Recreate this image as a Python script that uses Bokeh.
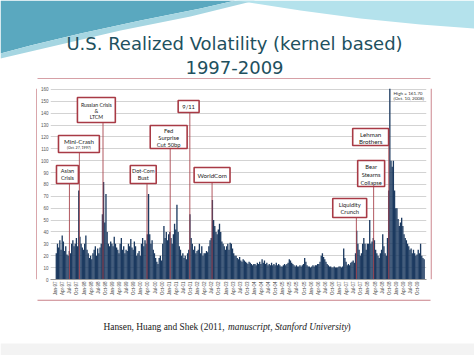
import math
from bokeh.plotting import figure
from bokeh.layouts import column, row
from bokeh.models import FixedTicker, Label, ColumnDataSource
from bokeh.core.properties import value
from bokeh.embed import file_html
from bokeh.resources import INLINE

# ---------------- data ----------------
years = [1997, 1998, 1999, 2000, 2001, 2002, 2003, 2004, 2005, 2006, 2007, 2008, 2009]
quarter_names = ["Jan", "Apr", "Jul", "Oct"]

# realized volatility, two readings per month (first / second half), per year
vol_1997 = [22, 30, 27, 33, 25, 37, 32, 24, 28, 21, 20, 24, 22, 30, 33, 28, 30, 35, 28, 75, 36, 30, 27, 25]
vol_1998 = [30, 37, 25, 22, 18, 20, 17, 22, 25, 28, 20, 26, 22, 27, 30, 55, 82, 48, 72, 40, 30, 28, 32, 30]
vol_1999 = [28, 36, 30, 27, 25, 22, 30, 35, 25, 28, 22, 25, 24, 30, 28, 34, 27, 25, 32, 28, 20, 22, 24, 20]
vol_2000 = [30, 35, 28, 33, 30, 38, 72, 38, 30, 33, 25, 22, 18, 15, 13, 18, 20, 16, 30, 45, 35, 40, 33, 38]
vol_2001 = [40, 35, 30, 38, 47, 42, 63, 40, 28, 25, 20, 22, 18, 20, 17, 22, 25, 55, 35, 30, 25, 28, 22, 24]
vol_2002 = [25, 30, 22, 28, 20, 22, 22, 24, 23, 28, 33, 35, 67, 50, 45, 40, 38, 42, 47, 40, 32, 30, 28, 25]
vol_2003 = [28, 30, 25, 31, 30, 26, 22, 20, 20, 18, 17, 19, 16, 15, 17, 16, 15, 14, 13, 15, 14, 13, 12, 13]
vol_2004 = [13, 12, 14, 13, 15, 13, 17, 14, 16, 13, 14, 12, 13, 12, 14, 12, 13, 12, 14, 12, 13, 12, 11, 11]
vol_2005 = [12, 13, 12, 13, 14, 17, 16, 14, 13, 12, 11, 12, 11, 11, 12, 11, 12, 13, 18, 15, 12, 11, 11, 10]
vol_2006 = [11, 12, 11, 12, 12, 13, 13, 15, 20, 22, 19, 17, 15, 13, 12, 11, 11, 10, 10, 11, 10, 10, 10, 11]
vol_2007 = [11, 10, 11, 26, 18, 15, 12, 13, 12, 14, 15, 16, 14, 22, 41, 30, 25, 20, 22, 30, 35, 30, 25, 30]
vol_2008 = [30, 50, 30, 32, 35, 33, 25, 22, 20, 18, 22, 25, 38, 28, 22, 20, 35, 75, 161.7, 100, 95, 100, 75, 60]
vol_2009 = [60, 51, 45, 48, 52, 45, 38, 35, 33, 30, 28, 25, 26, 22, 25, 22, 20, 21, 25, 22, 30, 20, 18, 17]

y_ticks = [0, 10, 20, 30, 40, 50, 60, 70, 80, 90, 100, 110, 120, 130, 140, 150, 160]

# events: label lines, month index (months since Jan 1997)
event_labels = [
    ["Asian", "Crisis"],
    ["Mini-Crash", "(Oct. 27, 1997)"],
    ["Russian Crisis", "&", "LTCM"],
    ["Dot-Com", "Bust"],
    ["Fed", "Surprise", "Cut 50bp"],
    ["9/11"],
    ["WorldCom"],
    ["Liquidity", "Crunch"],
    ["Bear", "Stearns", "Collapse"],
    ["Lehman", "Brothers"],
]
event_months = [5.8, 10.0, 20.0, 38.6, 48.4, 56.7, 66.1, 127.1, 134.4, 140.8]
high_text = ["High = 161.70", "(Oct. 10, 2008)"]

title_lines = ["U.S. Realized Volatility (kernel based)", "1997-2009"]
caption_parts = ["Hansen, Huang and Shek (2011, ", "manuscript, Stanford University", ")"]

# ---------------- page geometry ----------------
W, H = 474, 355
BX0, BX1, BY0, BY1 = 37, 430, 79, 299          # chart box
FL, FR, FT, FB = 49, 426, 88, 279              # plot frame (page px)
BORDER = "#c98088"

def deco_fig(w, h):
    f = figure(width=w, height=h, x_range=(0, w), y_range=(h, 0), title=None,
               x_axis_type=None, y_axis_type=None, toolbar_location=None,
               output_backend="svg", min_border=0)
    f.min_border_left = f.min_border_right = f.min_border_top = f.min_border_bottom = 0
    f.outline_line_color = None
    f.background_fill_color = "white"
    f.border_fill_color = "white"
    return f

# ---- head: swoosh + title ----
head = deco_fig(W, BY0)
head.patch([0, 235, 200, 140, 80, 30, 0], [0, 0, 8, 20, 33, 45, 53], fill_color="#5aa8bf", line_color=None)
head.patch([0, 30, 80, 140, 200, 235, 255, 190, 120, 60, 0], [53, 45, 33, 20, 8, 0, 0, 16, 30, 44, 58],
           fill_color="#a6d6e2", line_color=None)
head.patch([235, 474, 474, 420, 360, 300, 255], [0, 0, 28, 24, 18, 10, 3], fill_color="#b4e2ec", line_color=None)
head.text(x=[234, 234], y=[42.5, 67], text=title_lines, text_font=value("DejaVu Sans"),
          text_font_size="18px", text_color="#21505e", text_align="center", text_baseline="alphabetic")
head.segment(x0=[BX0], x1=[BX1], y0=[BY0 - 0.6], y1=[BY0 - 0.6], line_color=BORDER, line_width=1.2)

# ---- side strips with box border ----
left = deco_fig(BX0, BY1 - BY0)
left.segment(x0=[BX0 - 0.6], x1=[BX0 - 0.6], y0=[0], y1=[BY1 - BY0], line_color=BORDER, line_width=1.2)
right = deco_fig(W - BX1, BY1 - BY0)
right.segment(x0=[0.6], x1=[0.6], y0=[0], y1=[BY1 - BY0], line_color=BORDER, line_width=1.2)

# ---- foot: caption ----
foot = deco_fig(W, H - BY1)
foot.quad(left=[0], right=[W], top=[44], bottom=[H - BY1], fill_color="#f3f3f3", line_color=None)
foot.segment(x0=[BX0], x1=[BX1], y0=[0.6], y1=[0.6], line_color=BORDER, line_width=1.2)
cap_x = [103, 227.5, 347]
cap_style = ["normal", "italic", "normal"]
for part, xp, st in zip(caption_parts, cap_x, cap_style):
    foot.text(x=[xp], y=[326 - BY1], text=[part], text_font=value("Liberation Serif"),
              text_font_size="9.4px", text_font_style=st, text_color="#1a1a1a",
              text_align="left", text_baseline="alphabetic")

# ---- chart ----
X_START, X_END = -2.2, 156.75
Y_START, Y_END = 0, 160.8
CW, CH = BX1 - BX0, BY1 - BY0
SX = (FR - FL) / (X_END - X_START)
SY = (FB - FT) / (Y_END - Y_START)

def dx(px):
    return X_START + (px - FL) / SX

def dy(py):
    return Y_START + (FB - py) / SY

p = figure(width=CW, height=CH, x_range=(X_START, X_END), y_range=(Y_START, Y_END),
           title=None, output_backend="svg", toolbar_location=None)
p.min_border_left = FL - BX0
p.min_border_right = BX1 - FR
p.min_border_top = FT - BY0
p.min_border_bottom = BY1 - FB
p.outline_line_color = None
p.background_fill_color = "white"
p.border_fill_color = "white"

vals = (vol_1997 + vol_1998 + vol_1999 + vol_2000 + vol_2001 + vol_2002 + vol_2003 +
        vol_2004 + vol_2005 + vol_2006 + vol_2007 + vol_2008 + vol_2009)
xs = [i * 0.5 + 0.25 for i in range(len(vals))]
p.vbar(x=xs, top=vals, bottom=0, width=0.56, fill_color="#1c3a60", line_color=None)

tick_pos = []
overrides = {}
for yi, yr in enumerate(years):
    for qi, q in enumerate(quarter_names):
        m = yi * 12 + qi * 3
        tick_pos.append(m)
        overrides[m] = f"{q}-{str(yr)[2:]}"
p.xaxis.ticker = FixedTicker(ticks=tick_pos)
p.xaxis.major_label_overrides = overrides
p.xaxis.major_label_orientation = math.pi / 2
p.xaxis.major_label_text_font_size = "4.5px"
p.xaxis.major_label_text_color = "#444444"
p.xaxis.major_label_standoff = 2
p.xaxis.major_tick_line_color = None
p.xaxis.major_tick_out = 0
p.xaxis.minor_tick_line_color = None
p.xaxis.axis_line_color = "#999999"
p.xgrid.grid_line_color = None

p.yaxis.ticker = FixedTicker(ticks=y_ticks)
p.yaxis.major_label_text_font_size = "4.5px"
p.yaxis.major_label_text_color = "#555555"
p.yaxis.major_label_standoff = 2
p.yaxis.major_tick_out = 0
p.yaxis.axis_line_color = None
p.yaxis.major_tick_line_color = None
p.yaxis.minor_tick_line_color = None
p.ygrid.grid_line_color = "#c8c8c8"
p.ygrid.grid_line_width = 0.8

box_px = [
    (55, 77, 165, 183), (57, 98, 135, 152), (76, 114, 97, 122), (129, 155, 165, 183),
    (149, 186, 125, 148), (177, 198, 100, 112), (193, 229, 167, 182), (332, 366, 198, 217),
    (357, 384, 160, 186), (352, 388, 128, 145),
]
text_y_px = [
    [170, 177.5], [141, 147], [104, 110, 116.5], [170.5, 177.5], [130, 137.3, 144.3],
    [106], [174.5], [204, 211], [166, 174, 181.5], [133.5, 140.5],
]
text_size = [
    ["5.5px", "5.5px"], ["6.2px", "3.6px"], ["5.2px", "5.2px", "5.2px"], ["5.5px", "5.5px"],
    ["5.8px", "5.8px", "5.8px"], ["5.8px"], ["6.2px"], ["5.8px", "5.8px"],
    ["5.8px", "5.8px", "5.8px"], ["6.2px", "6.2px"],
]

p.segment(x0=event_months, x1=event_months, y0=[0] * len(event_months),
          y1=[dy(b[3]) for b in box_px], line_color="#a8464f", line_width=1.0, line_alpha=0.9)
p.quad(left=[dx(b[0]) for b in box_px], right=[dx(b[1]) for b in box_px],
       top=[dy(b[2]) for b in box_px], bottom=[dy(b[3]) for b in box_px],
       fill_color="white", line_color="#a83a45", line_width=1.6)

tx, ty, tt, ts = [], [], [], []
for lab, b, yl, sz in zip(event_labels, box_px, text_y_px, text_size):
    cx = (b[0] + b[1]) / 2
    for line, ypx, s in zip(lab, yl, sz):
        tx.append(dx(cx)); ty.append(dy(ypx)); tt.append(line); ts.append(s)
src = ColumnDataSource(dict(x=tx, y=ty, t=tt, s=ts))
p.text(x="x", y="y", text="t", source=src, text_font=value("Lato"), text_font_size="s",
       text_align="center", text_baseline="middle", text_color="#222222")

for line, ypx in zip(high_text, [92, 97.5]):
    p.add_layout(Label(x=dx(393), y=dy(ypx), text=line, text_font="Lato", text_font_size="4.6px",
                       text_color="#333333", text_baseline="middle", text_align="left"))

page = column(head, row(left, p, right, spacing=0), foot, spacing=0)
open("out.html", "w").write(file_html(page, INLINE))
